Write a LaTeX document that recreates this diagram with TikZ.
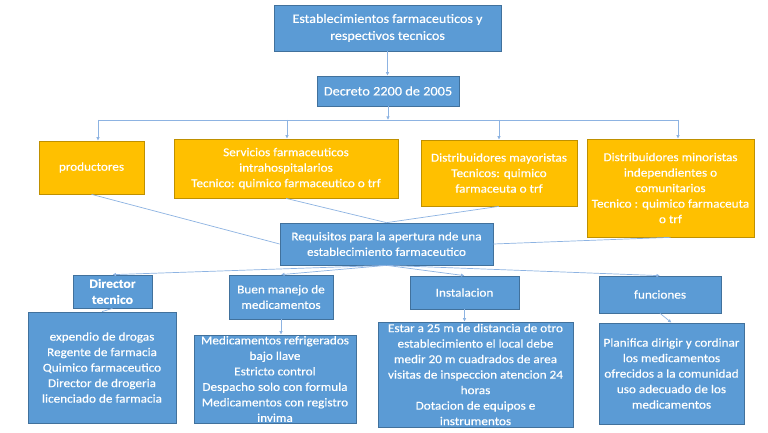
\documentclass[tikz,border=0pt]{standalone}
\usepackage{fontspec}
\setmainfont{Carlito}[FakeStretch=1.1,FakeBold=0.4]
\usetikzlibrary{arrows.meta}
\definecolor{bluebox}{HTML}{5B9BD5}
\definecolor{blueedge}{HTML}{41719C}
\definecolor{orbox}{HTML}{FFC000}
\definecolor{oredge}{HTML}{BF9000}
\definecolor{conn}{HTML}{8DB3E2}
\begin{document}
\begin{tikzpicture}[x=1pt,y=-1pt,
  bbox/.style={draw=blueedge,fill=bluebox,line width=0.7pt,text=white,inner sep=0pt,align=center,font=\fontsize{12}{15.5}\selectfont},
  obox/.style={draw=oredge,fill=orbox,line width=0.7pt,text=white,inner sep=0pt,align=center,font=\fontsize{12}{15.5}\selectfont},
  sz/.style 2 args={minimum width=#1pt,minimum height=#2pt},
  link/.style={draw=conn,line width=0.7pt},
  arr/.style={draw=conn,line width=0.7pt,-{Latex[length=3.5pt,width=3.5pt]}}]
\useasboundingbox[fill=white] (0,0) rectangle (768,433);
% top
\node[bbox,sz={227}{46},font=\fontsize{12.8}{17}\selectfont] (top) at (387.5,28) {Establecimientos farmaceuticos y\\respectivos tecnicos};
\node[bbox,sz={142}{30},font=\fontsize{13}{15}\selectfont] (dec) at (388,91) {Decreto 2200 de 2005};
% orange row
\node[obox,sz={105}{53}] (prod) at (91.5,167.5) {productores};
\node[obox,sz={224}{59}] (serv) at (286,168.5) {Servicios farmaceuticos\\intrahospitalarios\\Tecnico: quimico farmaceutico o trf};
\node[obox,sz={156}{66}] (may) at (499,173) {Distribuidores mayoristas\\Tecnicos: quimico\\farmaceuta o trf};
\node[obox,sz={167}{98}] (min) at (670.5,188) {Distribuidores minoristas\\independientes o\\comunitarios\\Tecnico : quimico farmaceuta\\o trf};
% requisitos
\node[bbox,sz={213}{42}] (req) at (386.5,244) {Requisitos para la apertura nde una\\establecimiento farmaceutico};
% second row
\node[bbox,sz={79}{33},font=\fontsize{12.5}{16}\selectfont\bfseries] (dir) at (112.5,291.5) {Director\\tecnico};
\node[bbox,sz={148}{111}] (dird) at (102,367.5) {expendio de drogas\\Regente de farmacia\\Quimico farmaceutico\\Director de drogeria\\licenciado de farmacia};
\node[bbox,sz={104}{44}] (buen) at (281,297) {Buen manejo de\\medicamentos};
\node[bbox,sz={162}{88}] (buend) at (275,379) {Medicamentos refrigerados\\bajo llave\\Estricto control\\Despacho solo con formula\\Medicamentos con registro\\invima};
\node[bbox,sz={109}{33}] (inst) at (464.5,292.5) {Instalacion};
\node[bbox,sz={195}{105}] (instd) at (475.5,374.5) {Estar a 25 m de distancia de otro\\establecimiento el local debe\\medir 20 m cuadrados de area\\visitas de inspeccion atencion 24\\horas\\Dotacion de equipos e\\instrumentos};
\node[bbox,sz={122}{37}] (fun) at (660,294.5) {funciones};
\node[bbox,sz={145}{101}] (fund) at (671.5,373.5) {Planifica dirigir y cordinar\\los medicamentos\\ofrecidos a la comunidad\\uso adecuado de los\\medicamentos};
% connectors top
\coordinate (j) at (388,120);
\coordinate (h1) at (98,120);
\coordinate (h2) at (287,120);
\coordinate (h3) at (499,120);
\coordinate (h4) at (678,120);
\draw[arr] (top.south) -- (top.south |- dec.north);
\draw[arr] (dec.south) -- (j);
\draw[link] (h1) -- (h4);
\draw[arr] (h1) -- (h1 |- prod.north);
\draw[arr] (h2) -- (h2 |- serv.north);
\draw[arr] (h3) -- (h3 |- may.north);
\draw[arr] (h4) -- (h4 |- min.north);
% into requisitos
\draw[link] (prod.south) -- (req.west);
\draw[link] (serv.south) -- (req.north);
\draw[link] (may.south) -- (req.north);
\draw[link] (min.south) -- (req.east);
% out of requisitos
\draw[arr] (req.south) -- (dir.north);
\draw[arr] (req.south) -- (buen.north);
\draw[arr] (req.south) -- (inst.north);
\draw[arr] (req.south) -- (fun.north);
% details
\draw[link] (dir.south) -- (dird.north);
\draw[arr] (buen.south) -- (buen.south |- buend.north);
\draw[arr] (inst.south) -- (inst.south |- instd.north);
\draw[arr] (fun.south) -- (fund.north);
\end{tikzpicture}
\end{document}
